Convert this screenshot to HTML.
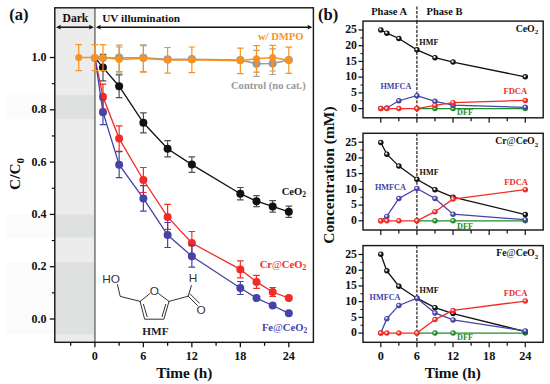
<!DOCTYPE html>
<html><head><meta charset="utf-8"><style>
html,body{margin:0;padding:0;background:#fff;width:550px;height:384px;overflow:hidden}
svg{display:block}

</style></head><body><svg width="550" height="384" viewBox="0 0 550 384"><defs><radialGradient id="g111111" cx="0.42" cy="0.42" r="0.6" fx="0.4" fy="0.38"><stop offset="0" stop-color="#f0f0f0"/><stop offset="0.15" stop-color="#f0f0f0"/><stop offset="0.5" stop-color="#111111"/><stop offset="1" stop-color="#111111"/></radialGradient><radialGradient id="gf32b26" cx="0.42" cy="0.42" r="0.6" fx="0.4" fy="0.38"><stop offset="0" stop-color="#ffe0dc"/><stop offset="0.15" stop-color="#ffe0dc"/><stop offset="0.5" stop-color="#f32b26"/><stop offset="1" stop-color="#f32b26"/></radialGradient><radialGradient id="g4543a5" cx="0.42" cy="0.42" r="0.6" fx="0.4" fy="0.38"><stop offset="0" stop-color="#e4e4ff"/><stop offset="0.15" stop-color="#e4e4ff"/><stop offset="0.5" stop-color="#4543a5"/><stop offset="1" stop-color="#4543a5"/></radialGradient><radialGradient id="g1f8c2a" cx="0.42" cy="0.42" r="0.6" fx="0.4" fy="0.38"><stop offset="0" stop-color="#d8f4d8"/><stop offset="0.15" stop-color="#d8f4d8"/><stop offset="0.5" stop-color="#1f8c2a"/><stop offset="1" stop-color="#1f8c2a"/></radialGradient></defs><rect width="550" height="384" fill="#fff"/><rect x="54.8" y="7.8" width="40.10000000000001" height="334.5" fill="#ececec"/><rect x="54.8" y="95.0" width="40.10000000000001" height="24.0" fill="#dfe1e1"/><rect x="54.8" y="214.5" width="40.10000000000001" height="23.0" fill="#dfe1e1"/><rect x="54.8" y="262.0" width="40.10000000000001" height="72.5" fill="#dfe1e1"/><rect x="6" y="95.0" width="47.8" height="24.0" fill="#fbfbfb"/><rect x="6" y="214.5" width="47.8" height="23.0" fill="#fbfbfb"/><rect x="6" y="262.0" width="47.8" height="72.5" fill="#fbfbfb"/><line x1="94.9" y1="7.8" x2="94.9" y2="342.3" stroke="#7a7a7a" stroke-width="1.6"/><rect x="54.8" y="7.8" width="258.59999999999997" height="334.5" fill="none" stroke="#1a1a1a" stroke-width="1.45"/><line x1="49.8" y1="319.00" x2="54.8" y2="319.00" stroke="#111" stroke-width="1.3"/><text x="46.4" y="322.5" font-size="12" fill="#111" text-anchor="end" font-family="Liberation Serif" font-weight="bold" >0.0</text><line x1="49.8" y1="266.70" x2="54.8" y2="266.70" stroke="#111" stroke-width="1.3"/><text x="46.4" y="270.2" font-size="12" fill="#111" text-anchor="end" font-family="Liberation Serif" font-weight="bold" >0.2</text><line x1="49.8" y1="214.40" x2="54.8" y2="214.40" stroke="#111" stroke-width="1.3"/><text x="46.4" y="217.89999999999998" font-size="12" fill="#111" text-anchor="end" font-family="Liberation Serif" font-weight="bold" >0.4</text><line x1="49.8" y1="162.10" x2="54.8" y2="162.10" stroke="#111" stroke-width="1.3"/><text x="46.4" y="165.59999999999997" font-size="12" fill="#111" text-anchor="end" font-family="Liberation Serif" font-weight="bold" >0.6</text><line x1="49.8" y1="109.80" x2="54.8" y2="109.80" stroke="#111" stroke-width="1.3"/><text x="46.4" y="113.29999999999998" font-size="12" fill="#111" text-anchor="end" font-family="Liberation Serif" font-weight="bold" >0.8</text><line x1="49.8" y1="57.50" x2="54.8" y2="57.50" stroke="#111" stroke-width="1.3"/><text x="46.4" y="61.0" font-size="12" fill="#111" text-anchor="end" font-family="Liberation Serif" font-weight="bold" >1.0</text><line x1="51.8" y1="292.85" x2="54.8" y2="292.85" stroke="#111" stroke-width="1.2"/><line x1="51.8" y1="240.55" x2="54.8" y2="240.55" stroke="#111" stroke-width="1.2"/><line x1="51.8" y1="188.25" x2="54.8" y2="188.25" stroke="#111" stroke-width="1.2"/><line x1="51.8" y1="135.95" x2="54.8" y2="135.95" stroke="#111" stroke-width="1.2"/><line x1="51.8" y1="83.65" x2="54.8" y2="83.65" stroke="#111" stroke-width="1.2"/><line x1="70.66" y1="342.3" x2="70.66" y2="345.8" stroke="#111" stroke-width="1.3"/><line x1="94.90" y1="342.3" x2="94.90" y2="347.3" stroke="#111" stroke-width="1.3"/><text x="94.9" y="360.2" font-size="12.2" fill="#111" text-anchor="middle" font-family="Liberation Serif" font-weight="bold" >0</text><line x1="119.14" y1="342.3" x2="119.14" y2="345.8" stroke="#111" stroke-width="1.3"/><line x1="143.38" y1="342.3" x2="143.38" y2="347.3" stroke="#111" stroke-width="1.3"/><text x="143.38" y="360.2" font-size="12.2" fill="#111" text-anchor="middle" font-family="Liberation Serif" font-weight="bold" >6</text><line x1="167.62" y1="342.3" x2="167.62" y2="345.8" stroke="#111" stroke-width="1.3"/><line x1="191.86" y1="342.3" x2="191.86" y2="347.3" stroke="#111" stroke-width="1.3"/><text x="191.86" y="360.2" font-size="12.2" fill="#111" text-anchor="middle" font-family="Liberation Serif" font-weight="bold" >12</text><line x1="216.10" y1="342.3" x2="216.10" y2="345.8" stroke="#111" stroke-width="1.3"/><line x1="240.34" y1="342.3" x2="240.34" y2="347.3" stroke="#111" stroke-width="1.3"/><text x="240.34" y="360.2" font-size="12.2" fill="#111" text-anchor="middle" font-family="Liberation Serif" font-weight="bold" >18</text><line x1="264.58" y1="342.3" x2="264.58" y2="345.8" stroke="#111" stroke-width="1.3"/><line x1="288.82" y1="342.3" x2="288.82" y2="347.3" stroke="#111" stroke-width="1.3"/><text x="288.82000000000005" y="360.2" font-size="12.2" fill="#111" text-anchor="middle" font-family="Liberation Serif" font-weight="bold" >24</text><text x="184.3" y="378.3" font-size="15.3" fill="#111" text-anchor="middle" font-family="Liberation Serif" font-weight="bold" >Time (h)</text><text transform="translate(19.6,174) rotate(-90)" font-size="15.3" fill="#111" text-anchor="middle" font-family="Liberation Serif" font-weight="bold">C/C<tspan font-size="11" dy="4">0</tspan></text><text x="9.2" y="19.8" font-size="16.6" fill="#111" text-anchor="start" font-family="Liberation Serif" font-weight="bold" >(a)</text><line x1="59.0" y1="27.2" x2="90.9" y2="27.2" stroke="#111" stroke-width="1.5"/><path d="M93.9,27.2 L88.9,24.8 L89.9,27.2 L88.9,29.599999999999998 Z" fill="#111"/><path d="M56.0,27.2 L61.0,24.8 L60.0,27.2 L61.0,29.599999999999998 Z" fill="#111"/><line x1="98.9" y1="27.2" x2="309.4" y2="27.2" stroke="#111" stroke-width="1.5"/><path d="M312.4,27.2 L307.4,24.8 L308.4,27.2 L307.4,29.599999999999998 Z" fill="#111"/><path d="M95.9,27.2 L100.9,24.8 L99.9,27.2 L100.9,29.599999999999998 Z" fill="#111"/><text x="75.4" y="22.3" font-size="11.6" fill="#111" text-anchor="middle" font-family="Liberation Serif" font-weight="bold" >Dark</text><text x="102.2" y="22.3" font-size="11.3" fill="#111" text-anchor="start" font-family="Liberation Serif" font-weight="bold" >UV illumination</text><path d="M94.90,58.00 L102.98,58.00 L119.14,57.70 L143.38,57.80 L167.62,59.40 L191.86,59.20 L240.34,60.00 L256.50,63.70 L272.66,63.50 L288.82,60.00" fill="none" stroke="#9b9b9b" stroke-width="1.6"/><path d="M119.14,45.20 V73.20 M115.84,45.20 H122.44 M115.84,73.20 H122.44" stroke="#a6a6a6" stroke-width="1.2" fill="none"/><path d="M143.38,44.80 V71.60 M140.08,44.80 H146.68 M140.08,71.60 H146.68" stroke="#a6a6a6" stroke-width="1.2" fill="none"/><path d="M256.50,50.40 V76.30 M253.20,50.40 H259.80 M253.20,76.30 H259.80" stroke="#a6a6a6" stroke-width="1.2" fill="none"/><path d="M272.66,48.90 V74.50 M269.36,48.90 H275.96 M269.36,74.50 H275.96" stroke="#a6a6a6" stroke-width="1.2" fill="none"/><circle cx="94.90" cy="58.00" r="4.1" fill="#9b9b9b"/><circle cx="102.98" cy="58.00" r="4.1" fill="#9b9b9b"/><circle cx="119.14" cy="57.70" r="4.1" fill="#9b9b9b"/><circle cx="143.38" cy="57.80" r="4.1" fill="#9b9b9b"/><circle cx="167.62" cy="59.40" r="4.1" fill="#9b9b9b"/><circle cx="191.86" cy="59.20" r="4.1" fill="#9b9b9b"/><circle cx="240.34" cy="60.00" r="4.1" fill="#9b9b9b"/><circle cx="256.50" cy="63.70" r="4.1" fill="#9b9b9b"/><circle cx="272.66" cy="63.50" r="4.1" fill="#9b9b9b"/><circle cx="288.82" cy="60.00" r="4.1" fill="#9b9b9b"/><path d="M94.90,57.50 L102.98,67.60 L119.14,86.20 L143.38,122.80 L167.62,148.70 L191.86,164.60 L240.34,193.70 L256.50,201.20 L272.66,206.40 L288.82,211.80" fill="none" stroke="#111111" stroke-width="1.3"/><path d="M102.98,54.30 V80.90 M99.68,54.30 H106.28 M99.68,80.90 H106.28" stroke="#505050" stroke-width="1.2" fill="none"/><path d="M119.14,74.80 V97.60 M115.84,74.80 H122.44 M115.84,97.60 H122.44" stroke="#505050" stroke-width="1.2" fill="none"/><path d="M143.38,112.80 V132.80 M140.08,112.80 H146.68 M140.08,132.80 H146.68" stroke="#505050" stroke-width="1.2" fill="none"/><path d="M167.62,140.60 V156.80 M164.32,140.60 H170.92 M164.32,156.80 H170.92" stroke="#505050" stroke-width="1.2" fill="none"/><path d="M191.86,156.90 V172.30 M188.56,156.90 H195.16 M188.56,172.30 H195.16" stroke="#505050" stroke-width="1.2" fill="none"/><path d="M240.34,187.50 V199.90 M237.04,187.50 H243.64 M237.04,199.90 H243.64" stroke="#505050" stroke-width="1.2" fill="none"/><path d="M256.50,195.70 V206.70 M253.20,195.70 H259.80 M253.20,206.70 H259.80" stroke="#505050" stroke-width="1.2" fill="none"/><path d="M272.66,200.60 V212.20 M269.36,200.60 H275.96 M269.36,212.20 H275.96" stroke="#505050" stroke-width="1.2" fill="none"/><path d="M288.82,206.20 V217.40 M285.52,206.20 H292.12 M285.52,217.40 H292.12" stroke="#505050" stroke-width="1.2" fill="none"/><circle cx="102.98" cy="67.60" r="4.0" fill="#111111"/><circle cx="119.14" cy="86.20" r="4.0" fill="#111111"/><circle cx="143.38" cy="122.80" r="4.0" fill="#111111"/><circle cx="167.62" cy="148.70" r="4.0" fill="#111111"/><circle cx="191.86" cy="164.60" r="4.0" fill="#111111"/><circle cx="240.34" cy="193.70" r="4.0" fill="#111111"/><circle cx="256.50" cy="201.20" r="4.0" fill="#111111"/><circle cx="272.66" cy="206.40" r="4.0" fill="#111111"/><circle cx="288.82" cy="211.80" r="4.0" fill="#111111"/><path d="M94.90,57.50 L102.98,96.70 L119.14,138.60 L143.38,180.00 L167.62,216.90 L191.86,243.00 L240.34,269.40 L256.50,281.90 L272.66,292.00 L288.82,298.10" fill="none" stroke="#f32b26" stroke-width="1.3"/><path d="M102.98,84.20 V109.20 M99.68,84.20 H106.28 M99.68,109.20 H106.28" stroke="#f32b26" stroke-width="1.2" fill="none"/><path d="M119.14,125.80 V151.40 M115.84,125.80 H122.44 M115.84,151.40 H122.44" stroke="#f32b26" stroke-width="1.2" fill="none"/><path d="M143.38,167.50 V192.50 M140.08,167.50 H146.68 M140.08,192.50 H146.68" stroke="#f32b26" stroke-width="1.2" fill="none"/><path d="M167.62,204.40 V229.40 M164.32,204.40 H170.92 M164.32,229.40 H170.92" stroke="#f32b26" stroke-width="1.2" fill="none"/><path d="M191.86,231.50 V254.50 M188.56,231.50 H195.16 M188.56,254.50 H195.16" stroke="#f32b26" stroke-width="1.2" fill="none"/><path d="M240.34,260.90 V277.90 M237.04,260.90 H243.64 M237.04,277.90 H243.64" stroke="#f32b26" stroke-width="1.2" fill="none"/><path d="M256.50,275.40 V288.40 M253.20,275.40 H259.80 M253.20,288.40 H259.80" stroke="#f32b26" stroke-width="1.2" fill="none"/><path d="M272.66,287.50 V296.50 M269.36,287.50 H275.96 M269.36,296.50 H275.96" stroke="#f32b26" stroke-width="1.2" fill="none"/><circle cx="102.98" cy="96.70" r="4.0" fill="#f32b26"/><circle cx="119.14" cy="138.60" r="4.0" fill="#f32b26"/><circle cx="143.38" cy="180.00" r="4.0" fill="#f32b26"/><circle cx="167.62" cy="216.90" r="4.0" fill="#f32b26"/><circle cx="191.86" cy="243.00" r="4.0" fill="#f32b26"/><circle cx="240.34" cy="269.40" r="4.0" fill="#f32b26"/><circle cx="256.50" cy="281.90" r="4.0" fill="#f32b26"/><circle cx="272.66" cy="292.00" r="4.0" fill="#f32b26"/><circle cx="288.82" cy="298.10" r="4.0" fill="#f32b26"/><path d="M94.90,57.50 L102.98,112.20 L119.14,164.70 L143.38,198.40 L167.62,235.00 L191.86,256.20 L240.34,288.00 L256.50,298.10 L272.66,305.50 L288.82,313.30" fill="none" stroke="#4543a5" stroke-width="1.3"/><path d="M102.98,99.70 V124.70 M99.68,99.70 H106.28 M99.68,124.70 H106.28" stroke="#4543a5" stroke-width="1.2" fill="none"/><path d="M119.14,151.70 V177.70 M115.84,151.70 H122.44 M115.84,177.70 H122.44" stroke="#4543a5" stroke-width="1.2" fill="none"/><path d="M143.38,185.70 V211.10 M140.08,185.70 H146.68 M140.08,211.10 H146.68" stroke="#4543a5" stroke-width="1.2" fill="none"/><path d="M167.62,222.50 V247.50 M164.32,222.50 H170.92 M164.32,247.50 H170.92" stroke="#4543a5" stroke-width="1.2" fill="none"/><path d="M191.86,245.20 V267.20 M188.56,245.20 H195.16 M188.56,267.20 H195.16" stroke="#4543a5" stroke-width="1.2" fill="none"/><path d="M240.34,281.50 V294.50 M237.04,281.50 H243.64 M237.04,294.50 H243.64" stroke="#4543a5" stroke-width="1.2" fill="none"/><circle cx="102.98" cy="112.20" r="4.0" fill="#4543a5"/><circle cx="119.14" cy="164.70" r="4.0" fill="#4543a5"/><circle cx="143.38" cy="198.40" r="4.0" fill="#4543a5"/><circle cx="167.62" cy="235.00" r="4.0" fill="#4543a5"/><circle cx="191.86" cy="256.20" r="4.0" fill="#4543a5"/><circle cx="240.34" cy="288.00" r="4.0" fill="#4543a5"/><circle cx="256.50" cy="298.10" r="4.0" fill="#4543a5"/><circle cx="272.66" cy="305.50" r="4.0" fill="#4543a5"/><circle cx="288.82" cy="313.30" r="4.0" fill="#4543a5"/><path d="M78.74,57.60 L94.90,57.60 L102.98,57.60 L119.14,59.40 L143.38,58.60 L167.62,60.10 L191.86,59.80 L240.34,60.80 L256.50,58.80 L272.66,57.60 L288.82,60.30" fill="none" stroke="#f7931e" stroke-width="1.5"/><path d="M78.74,44.60 V70.60 M75.44,44.60 H82.04 M75.44,70.60 H82.04" stroke="#f7931e" stroke-width="1.2" fill="none"/><path d="M94.90,44.60 V70.60 M91.60,44.60 H98.20 M91.60,70.60 H98.20" stroke="#f7931e" stroke-width="1.2" fill="none"/><path d="M102.98,44.60 V70.60 M99.68,44.60 H106.28 M99.68,70.60 H106.28" stroke="#f7931e" stroke-width="1.2" fill="none"/><path d="M119.14,47.00 V71.70 M115.84,47.00 H122.44 M115.84,71.70 H122.44" stroke="#f7931e" stroke-width="1.2" fill="none"/><path d="M143.38,45.60 V72.10 M140.08,45.60 H146.68 M140.08,72.10 H146.68" stroke="#f7931e" stroke-width="1.2" fill="none"/><path d="M167.62,47.50 V73.20 M164.32,47.50 H170.92 M164.32,73.20 H170.92" stroke="#f7931e" stroke-width="1.2" fill="none"/><path d="M191.86,47.00 V72.70 M188.56,47.00 H195.16 M188.56,72.70 H195.16" stroke="#f7931e" stroke-width="1.2" fill="none"/><path d="M240.34,48.20 V73.60 M237.04,48.20 H243.64 M237.04,73.60 H243.64" stroke="#f7931e" stroke-width="1.2" fill="none"/><path d="M256.50,45.70 V72.20 M253.20,45.70 H259.80 M253.20,72.20 H259.80" stroke="#f7931e" stroke-width="1.2" fill="none"/><path d="M272.66,45.30 V71.00 M269.36,45.30 H275.96 M269.36,71.00 H275.96" stroke="#f7931e" stroke-width="1.2" fill="none"/><path d="M288.82,47.20 V73.30 M285.52,47.20 H292.12 M285.52,73.30 H292.12" stroke="#f7931e" stroke-width="1.2" fill="none"/><circle cx="78.74" cy="57.60" r="3.5" fill="#f7931e"/><circle cx="94.90" cy="57.60" r="3.5" fill="#f7931e"/><circle cx="102.98" cy="57.60" r="3.5" fill="#f7931e"/><circle cx="119.14" cy="59.40" r="3.5" fill="#f7931e"/><circle cx="143.38" cy="58.60" r="3.5" fill="#f7931e"/><circle cx="167.62" cy="60.10" r="3.5" fill="#f7931e"/><circle cx="191.86" cy="59.80" r="3.5" fill="#f7931e"/><circle cx="240.34" cy="60.80" r="3.5" fill="#f7931e"/><circle cx="256.50" cy="58.80" r="3.5" fill="#f7931e"/><circle cx="272.66" cy="57.60" r="3.5" fill="#f7931e"/><circle cx="288.82" cy="60.30" r="3.5" fill="#f7931e"/><text x="303.5" y="39.6" font-size="10.6" fill="#f7931e" text-anchor="end" font-family="Liberation Serif" font-weight="bold" >w/ DMPO</text><text x="305.8" y="88.6" font-size="10.6" fill="#9a9a9a" text-anchor="end" font-family="Liberation Serif" font-weight="bold" >Control (no cat.)</text><text x="306" y="194.5" font-size="10.6" fill="#111" text-anchor="end" font-family="Liberation Serif" font-weight="bold">CeO<tspan font-size="7.5" dy="2.4">2</tspan></text><text x="306.2" y="267.6" font-size="10.6" fill="#f32b26" text-anchor="end" font-family="Liberation Serif" font-weight="bold">Cr<tspan font-weight="normal">@</tspan>CeO<tspan font-size="7.5" dy="2.4">2</tspan></text><text x="307.2" y="330.9" font-size="10.6" fill="#4543a5" text-anchor="end" font-family="Liberation Serif" font-weight="bold">Fe<tspan font-weight="normal">@</tspan>CeO<tspan font-size="7.5" dy="2.4">2</tspan></text><g stroke="#333" stroke-width="1.0" fill="none" stroke-linecap="round"><path d="M117.5,284.6 L120.2,296.4 L140.1,301.4"/><path d="M140.1,301.4 L149.8,293.6"/><path d="M158.6,293.6 L169.0,301.4"/><path d="M140.1,301.4 L144.6,319.2 L163.9,319.2 L169.0,301.4"/><path d="M143.5,304.4 L147.1,316.6"/><path d="M165.7,304.4 L162.1,316.6"/><path d="M169.0,301.4 L188.2,296.2 L191.4,285.6"/><path d="M188.2,296.2 L197.6,305.6 M190.2,294.0 L199.4,303.2"/></g><text x="111.2" y="282.5" font-size="11.8" fill="#333" text-anchor="middle" font-family="Liberation Sans" >HO</text><text x="154.3" y="294.6" font-size="11.8" fill="#333" text-anchor="middle" font-family="Liberation Sans" >O</text><text x="193.0" y="282.1" font-size="11.8" fill="#333" text-anchor="middle" font-family="Liberation Sans" >H</text><text x="201.2" y="314.2" font-size="11.8" fill="#333" text-anchor="middle" font-family="Liberation Sans" >O</text><text x="155.4" y="334.6" font-size="11.3" fill="#222" text-anchor="middle" font-family="Liberation Serif" font-weight="bold" >HMF</text><text x="318.0" y="19.8" font-size="16.6" fill="#111" text-anchor="start" font-family="Liberation Serif" font-weight="bold" >(b)</text><text x="389.1" y="15.3" font-size="10.5" fill="#111" text-anchor="middle" font-family="Liberation Serif" font-weight="bold" >Phase A</text><text x="444.5" y="15.3" font-size="10.5" fill="#111" text-anchor="middle" font-family="Liberation Serif" font-weight="bold" >Phase B</text><line x1="416.9" y1="6.5" x2="416.9" y2="21.1" stroke="#111" stroke-width="1.15" stroke-dasharray="3,1.4"/><text transform="translate(333.6,175) rotate(-90)" font-size="15.5" fill="#111" text-anchor="middle" font-family="Liberation Serif" font-weight="bold">Concentration (mM)</text><line x1="416.9" y1="21.1" x2="416.9" y2="117.80000000000001" stroke="#111" stroke-width="1.15" stroke-dasharray="3,1.4"/><rect x="363.0" y="21.1" width="180.20000000000005" height="96.7" fill="none" stroke="#1a1a1a" stroke-width="1.45"/><line x1="358.5" y1="108.60" x2="363.0" y2="108.60" stroke="#111" stroke-width="1.2"/><text x="357.0" y="111.89999999999999" font-size="11.8" fill="#111" text-anchor="end" font-family="Liberation Serif" font-weight="bold" >0</text><line x1="358.5" y1="92.88" x2="363.0" y2="92.88" stroke="#111" stroke-width="1.2"/><text x="357.0" y="96.17999999999999" font-size="11.8" fill="#111" text-anchor="end" font-family="Liberation Serif" font-weight="bold" >5</text><line x1="358.5" y1="77.16" x2="363.0" y2="77.16" stroke="#111" stroke-width="1.2"/><text x="357.0" y="80.46" font-size="11.8" fill="#111" text-anchor="end" font-family="Liberation Serif" font-weight="bold" >10</text><line x1="358.5" y1="61.44" x2="363.0" y2="61.44" stroke="#111" stroke-width="1.2"/><text x="357.0" y="64.74" font-size="11.8" fill="#111" text-anchor="end" font-family="Liberation Serif" font-weight="bold" >15</text><line x1="358.5" y1="45.72" x2="363.0" y2="45.72" stroke="#111" stroke-width="1.2"/><text x="357.0" y="49.01999999999999" font-size="11.8" fill="#111" text-anchor="end" font-family="Liberation Serif" font-weight="bold" >20</text><line x1="358.5" y1="30.00" x2="363.0" y2="30.00" stroke="#111" stroke-width="1.2"/><text x="357.0" y="33.29999999999998" font-size="11.8" fill="#111" text-anchor="end" font-family="Liberation Serif" font-weight="bold" >25</text><line x1="360.5" y1="100.74" x2="363.0" y2="100.74" stroke="#111" stroke-width="1.0"/><line x1="360.5" y1="85.02" x2="363.0" y2="85.02" stroke="#111" stroke-width="1.0"/><line x1="360.5" y1="69.30" x2="363.0" y2="69.30" stroke="#111" stroke-width="1.0"/><line x1="360.5" y1="53.58" x2="363.0" y2="53.58" stroke="#111" stroke-width="1.0"/><line x1="360.5" y1="37.86" x2="363.0" y2="37.86" stroke="#111" stroke-width="1.0"/><line x1="380.80" y1="117.80000000000001" x2="380.80" y2="122.80000000000001" stroke="#111" stroke-width="1.2"/><line x1="398.86" y1="117.80000000000001" x2="398.86" y2="121.30000000000001" stroke="#111" stroke-width="1.2"/><line x1="416.92" y1="117.80000000000001" x2="416.92" y2="122.80000000000001" stroke="#111" stroke-width="1.2"/><line x1="434.98" y1="117.80000000000001" x2="434.98" y2="121.30000000000001" stroke="#111" stroke-width="1.2"/><line x1="453.04" y1="117.80000000000001" x2="453.04" y2="122.80000000000001" stroke="#111" stroke-width="1.2"/><line x1="471.10" y1="117.80000000000001" x2="471.10" y2="121.30000000000001" stroke="#111" stroke-width="1.2"/><line x1="489.16" y1="117.80000000000001" x2="489.16" y2="122.80000000000001" stroke="#111" stroke-width="1.2"/><line x1="507.22" y1="117.80000000000001" x2="507.22" y2="121.30000000000001" stroke="#111" stroke-width="1.2"/><line x1="525.28" y1="117.80000000000001" x2="525.28" y2="122.80000000000001" stroke="#111" stroke-width="1.2"/><path d="M416.92,108.60 L434.98,108.60 L453.04,108.60 L525.28,108.60" fill="none" stroke="#1f8c2a" stroke-width="1.3"/><circle cx="416.92" cy="108.60" r="2.75" fill="url(#g1f8c2a)"/><circle cx="434.98" cy="108.60" r="2.75" fill="url(#g1f8c2a)"/><circle cx="453.04" cy="108.60" r="2.75" fill="url(#g1f8c2a)"/><circle cx="525.28" cy="108.60" r="2.75" fill="url(#g1f8c2a)"/><path d="M380.80,30.00 L386.82,33.14 L398.86,38.49 L416.92,49.81 L434.98,57.67 L453.04,62.07 L525.28,76.85" fill="none" stroke="#111111" stroke-width="1.3"/><circle cx="380.80" cy="30.00" r="2.75" fill="url(#g111111)"/><circle cx="386.82" cy="33.14" r="2.75" fill="url(#g111111)"/><circle cx="398.86" cy="38.49" r="2.75" fill="url(#g111111)"/><circle cx="416.92" cy="49.81" r="2.75" fill="url(#g111111)"/><circle cx="434.98" cy="57.67" r="2.75" fill="url(#g111111)"/><circle cx="453.04" cy="62.07" r="2.75" fill="url(#g111111)"/><circle cx="525.28" cy="76.85" r="2.75" fill="url(#g111111)"/><path d="M380.80,108.60 L386.82,107.97 L398.86,100.74 L416.92,95.71 L434.98,101.37 L453.04,105.14 L525.28,107.34" fill="none" stroke="#4543a5" stroke-width="1.3"/><circle cx="380.80" cy="108.60" r="2.75" fill="url(#g4543a5)"/><circle cx="386.82" cy="107.97" r="2.75" fill="url(#g4543a5)"/><circle cx="398.86" cy="100.74" r="2.75" fill="url(#g4543a5)"/><circle cx="416.92" cy="95.71" r="2.75" fill="url(#g4543a5)"/><circle cx="434.98" cy="101.37" r="2.75" fill="url(#g4543a5)"/><circle cx="453.04" cy="105.14" r="2.75" fill="url(#g4543a5)"/><circle cx="525.28" cy="107.34" r="2.75" fill="url(#g4543a5)"/><path d="M380.80,108.60 L386.82,108.60 L398.86,108.60 L416.92,108.60 L434.98,105.46 L453.04,102.63 L525.28,100.43" fill="none" stroke="#f32b26" stroke-width="1.3"/><circle cx="380.80" cy="108.60" r="2.75" fill="url(#gf32b26)"/><circle cx="386.82" cy="108.60" r="2.75" fill="url(#gf32b26)"/><circle cx="398.86" cy="108.60" r="2.75" fill="url(#gf32b26)"/><circle cx="416.92" cy="108.60" r="2.75" fill="url(#gf32b26)"/><circle cx="434.98" cy="105.46" r="2.75" fill="url(#gf32b26)"/><circle cx="453.04" cy="102.63" r="2.75" fill="url(#gf32b26)"/><circle cx="525.28" cy="100.43" r="2.75" fill="url(#gf32b26)"/><text x="419.3" y="44.5" font-size="8.2" fill="#111" text-anchor="start" font-family="Liberation Serif" font-weight="bold" >HMF</text><text x="380.5" y="89.4" font-size="8.2" fill="#4543a5" text-anchor="start" font-family="Liberation Serif" font-weight="bold" >HMFCA</text><text x="503.5" y="94.4" font-size="8.5" fill="#f32b26" text-anchor="start" font-family="Liberation Serif" font-weight="bold" >FDCA</text><text x="457" y="114.9" font-size="8.2" fill="#1f8c2a" text-anchor="start" font-family="Liberation Serif" font-weight="bold" >DFF</text><text x="538.2" y="32.0" font-size="9.8" fill="#111" text-anchor="end" font-family="Liberation Serif" font-weight="bold">CeO<tspan font-size="7" dy="2.3">2</tspan></text><line x1="416.9" y1="133.3" x2="416.9" y2="230.0" stroke="#111" stroke-width="1.15" stroke-dasharray="3,1.4"/><rect x="363.0" y="133.3" width="180.20000000000005" height="96.7" fill="none" stroke="#1a1a1a" stroke-width="1.45"/><line x1="358.5" y1="220.80" x2="363.0" y2="220.80" stroke="#111" stroke-width="1.2"/><text x="357.0" y="224.10000000000002" font-size="11.8" fill="#111" text-anchor="end" font-family="Liberation Serif" font-weight="bold" >0</text><line x1="358.5" y1="205.08" x2="363.0" y2="205.08" stroke="#111" stroke-width="1.2"/><text x="357.0" y="208.38000000000002" font-size="11.8" fill="#111" text-anchor="end" font-family="Liberation Serif" font-weight="bold" >5</text><line x1="358.5" y1="189.36" x2="363.0" y2="189.36" stroke="#111" stroke-width="1.2"/><text x="357.0" y="192.66000000000003" font-size="11.8" fill="#111" text-anchor="end" font-family="Liberation Serif" font-weight="bold" >10</text><line x1="358.5" y1="173.64" x2="363.0" y2="173.64" stroke="#111" stroke-width="1.2"/><text x="357.0" y="176.94000000000003" font-size="11.8" fill="#111" text-anchor="end" font-family="Liberation Serif" font-weight="bold" >15</text><line x1="358.5" y1="157.92" x2="363.0" y2="157.92" stroke="#111" stroke-width="1.2"/><text x="357.0" y="161.22000000000003" font-size="11.8" fill="#111" text-anchor="end" font-family="Liberation Serif" font-weight="bold" >20</text><line x1="358.5" y1="142.20" x2="363.0" y2="142.20" stroke="#111" stroke-width="1.2"/><text x="357.0" y="145.5" font-size="11.8" fill="#111" text-anchor="end" font-family="Liberation Serif" font-weight="bold" >25</text><line x1="360.5" y1="212.94" x2="363.0" y2="212.94" stroke="#111" stroke-width="1.0"/><line x1="360.5" y1="197.22" x2="363.0" y2="197.22" stroke="#111" stroke-width="1.0"/><line x1="360.5" y1="181.50" x2="363.0" y2="181.50" stroke="#111" stroke-width="1.0"/><line x1="360.5" y1="165.78" x2="363.0" y2="165.78" stroke="#111" stroke-width="1.0"/><line x1="360.5" y1="150.06" x2="363.0" y2="150.06" stroke="#111" stroke-width="1.0"/><line x1="380.80" y1="230.0" x2="380.80" y2="235.0" stroke="#111" stroke-width="1.2"/><line x1="398.86" y1="230.0" x2="398.86" y2="233.5" stroke="#111" stroke-width="1.2"/><line x1="416.92" y1="230.0" x2="416.92" y2="235.0" stroke="#111" stroke-width="1.2"/><line x1="434.98" y1="230.0" x2="434.98" y2="233.5" stroke="#111" stroke-width="1.2"/><line x1="453.04" y1="230.0" x2="453.04" y2="235.0" stroke="#111" stroke-width="1.2"/><line x1="471.10" y1="230.0" x2="471.10" y2="233.5" stroke="#111" stroke-width="1.2"/><line x1="489.16" y1="230.0" x2="489.16" y2="235.0" stroke="#111" stroke-width="1.2"/><line x1="507.22" y1="230.0" x2="507.22" y2="233.5" stroke="#111" stroke-width="1.2"/><line x1="525.28" y1="230.0" x2="525.28" y2="235.0" stroke="#111" stroke-width="1.2"/><path d="M416.92,220.80 L434.98,220.80 L453.04,220.80 L525.28,220.80" fill="none" stroke="#1f8c2a" stroke-width="1.3"/><circle cx="416.92" cy="220.80" r="2.75" fill="url(#g1f8c2a)"/><circle cx="434.98" cy="220.80" r="2.75" fill="url(#g1f8c2a)"/><circle cx="453.04" cy="220.80" r="2.75" fill="url(#g1f8c2a)"/><circle cx="525.28" cy="220.80" r="2.75" fill="url(#g1f8c2a)"/><path d="M380.80,142.51 L386.82,154.15 L398.86,166.09 L416.92,179.30 L434.98,189.67 L453.04,197.22 L525.28,214.51" fill="none" stroke="#111111" stroke-width="1.3"/><circle cx="380.80" cy="142.51" r="2.75" fill="url(#g111111)"/><circle cx="386.82" cy="154.15" r="2.75" fill="url(#g111111)"/><circle cx="398.86" cy="166.09" r="2.75" fill="url(#g111111)"/><circle cx="416.92" cy="179.30" r="2.75" fill="url(#g111111)"/><circle cx="434.98" cy="189.67" r="2.75" fill="url(#g111111)"/><circle cx="453.04" cy="197.22" r="2.75" fill="url(#g111111)"/><circle cx="525.28" cy="214.51" r="2.75" fill="url(#g111111)"/><path d="M380.80,220.80 L386.82,216.40 L398.86,198.48 L416.92,188.42 L434.98,198.48 L453.04,214.20 L525.28,219.70" fill="none" stroke="#4543a5" stroke-width="1.3"/><circle cx="380.80" cy="220.80" r="2.75" fill="url(#g4543a5)"/><circle cx="386.82" cy="216.40" r="2.75" fill="url(#g4543a5)"/><circle cx="398.86" cy="198.48" r="2.75" fill="url(#g4543a5)"/><circle cx="416.92" cy="188.42" r="2.75" fill="url(#g4543a5)"/><circle cx="434.98" cy="198.48" r="2.75" fill="url(#g4543a5)"/><circle cx="453.04" cy="214.20" r="2.75" fill="url(#g4543a5)"/><circle cx="525.28" cy="219.70" r="2.75" fill="url(#g4543a5)"/><path d="M380.80,220.80 L386.82,220.80 L398.86,220.80 L416.92,220.80 L434.98,211.68 L453.04,199.11 L525.28,189.67" fill="none" stroke="#f32b26" stroke-width="1.3"/><circle cx="380.80" cy="220.80" r="2.75" fill="url(#gf32b26)"/><circle cx="386.82" cy="220.80" r="2.75" fill="url(#gf32b26)"/><circle cx="398.86" cy="220.80" r="2.75" fill="url(#gf32b26)"/><circle cx="416.92" cy="220.80" r="2.75" fill="url(#gf32b26)"/><circle cx="434.98" cy="211.68" r="2.75" fill="url(#gf32b26)"/><circle cx="453.04" cy="199.11" r="2.75" fill="url(#gf32b26)"/><circle cx="525.28" cy="189.67" r="2.75" fill="url(#gf32b26)"/><text x="419.6" y="174.5" font-size="8.2" fill="#111" text-anchor="start" font-family="Liberation Serif" font-weight="bold" >HMF</text><text x="375.0" y="189.6" font-size="8.2" fill="#4543a5" text-anchor="start" font-family="Liberation Serif" font-weight="bold" >HMFCA</text><text x="504.3" y="184.7" font-size="8.5" fill="#f32b26" text-anchor="start" font-family="Liberation Serif" font-weight="bold" >FDCA</text><text x="457" y="228.5" font-size="8.2" fill="#1f8c2a" text-anchor="start" font-family="Liberation Serif" font-weight="bold" >DFF</text><text x="538.2" y="144.2" font-size="9.8" fill="#111" text-anchor="end" font-family="Liberation Serif" font-weight="bold">Cr<tspan font-weight="normal">@</tspan>CeO<tspan font-size="7" dy="2.3">2</tspan></text><line x1="416.9" y1="245.6" x2="416.9" y2="342.3" stroke="#111" stroke-width="1.15" stroke-dasharray="3,1.4"/><rect x="363.0" y="245.6" width="180.20000000000005" height="96.7" fill="none" stroke="#1a1a1a" stroke-width="1.45"/><line x1="358.5" y1="333.10" x2="363.0" y2="333.10" stroke="#111" stroke-width="1.2"/><text x="357.0" y="336.40000000000003" font-size="11.8" fill="#111" text-anchor="end" font-family="Liberation Serif" font-weight="bold" >0</text><line x1="358.5" y1="317.38" x2="363.0" y2="317.38" stroke="#111" stroke-width="1.2"/><text x="357.0" y="320.68" font-size="11.8" fill="#111" text-anchor="end" font-family="Liberation Serif" font-weight="bold" >5</text><line x1="358.5" y1="301.66" x2="363.0" y2="301.66" stroke="#111" stroke-width="1.2"/><text x="357.0" y="304.96000000000004" font-size="11.8" fill="#111" text-anchor="end" font-family="Liberation Serif" font-weight="bold" >10</text><line x1="358.5" y1="285.94" x2="363.0" y2="285.94" stroke="#111" stroke-width="1.2"/><text x="357.0" y="289.24" font-size="11.8" fill="#111" text-anchor="end" font-family="Liberation Serif" font-weight="bold" >15</text><line x1="358.5" y1="270.22" x2="363.0" y2="270.22" stroke="#111" stroke-width="1.2"/><text x="357.0" y="273.52000000000004" font-size="11.8" fill="#111" text-anchor="end" font-family="Liberation Serif" font-weight="bold" >20</text><line x1="358.5" y1="254.50" x2="363.0" y2="254.50" stroke="#111" stroke-width="1.2"/><text x="357.0" y="257.8" font-size="11.8" fill="#111" text-anchor="end" font-family="Liberation Serif" font-weight="bold" >25</text><line x1="360.5" y1="325.24" x2="363.0" y2="325.24" stroke="#111" stroke-width="1.0"/><line x1="360.5" y1="309.52" x2="363.0" y2="309.52" stroke="#111" stroke-width="1.0"/><line x1="360.5" y1="293.80" x2="363.0" y2="293.80" stroke="#111" stroke-width="1.0"/><line x1="360.5" y1="278.08" x2="363.0" y2="278.08" stroke="#111" stroke-width="1.0"/><line x1="360.5" y1="262.36" x2="363.0" y2="262.36" stroke="#111" stroke-width="1.0"/><line x1="380.80" y1="342.3" x2="380.80" y2="347.3" stroke="#111" stroke-width="1.2"/><line x1="398.86" y1="342.3" x2="398.86" y2="345.8" stroke="#111" stroke-width="1.2"/><line x1="416.92" y1="342.3" x2="416.92" y2="347.3" stroke="#111" stroke-width="1.2"/><line x1="434.98" y1="342.3" x2="434.98" y2="345.8" stroke="#111" stroke-width="1.2"/><line x1="453.04" y1="342.3" x2="453.04" y2="347.3" stroke="#111" stroke-width="1.2"/><line x1="471.10" y1="342.3" x2="471.10" y2="345.8" stroke="#111" stroke-width="1.2"/><line x1="489.16" y1="342.3" x2="489.16" y2="347.3" stroke="#111" stroke-width="1.2"/><line x1="507.22" y1="342.3" x2="507.22" y2="345.8" stroke="#111" stroke-width="1.2"/><line x1="525.28" y1="342.3" x2="525.28" y2="347.3" stroke="#111" stroke-width="1.2"/><path d="M416.92,333.10 L434.98,333.10 L453.04,333.10 L525.28,333.10" fill="none" stroke="#1f8c2a" stroke-width="1.3"/><circle cx="416.92" cy="333.10" r="2.75" fill="url(#g1f8c2a)"/><circle cx="434.98" cy="333.10" r="2.75" fill="url(#g1f8c2a)"/><circle cx="453.04" cy="333.10" r="2.75" fill="url(#g1f8c2a)"/><circle cx="525.28" cy="333.10" r="2.75" fill="url(#g1f8c2a)"/><path d="M380.80,254.19 L386.82,270.85 L398.86,286.25 L416.92,298.20 L434.98,307.63 L453.04,313.61 L525.28,331.53" fill="none" stroke="#111111" stroke-width="1.3"/><circle cx="380.80" cy="254.19" r="2.75" fill="url(#g111111)"/><circle cx="386.82" cy="270.85" r="2.75" fill="url(#g111111)"/><circle cx="398.86" cy="286.25" r="2.75" fill="url(#g111111)"/><circle cx="416.92" cy="298.20" r="2.75" fill="url(#g111111)"/><circle cx="434.98" cy="307.63" r="2.75" fill="url(#g111111)"/><circle cx="453.04" cy="313.61" r="2.75" fill="url(#g111111)"/><circle cx="525.28" cy="331.53" r="2.75" fill="url(#g111111)"/><path d="M380.80,333.10 L386.82,318.64 L398.86,305.43 L416.92,298.20 L434.98,312.98 L453.04,319.90 L525.28,330.90" fill="none" stroke="#4543a5" stroke-width="1.3"/><circle cx="380.80" cy="333.10" r="2.75" fill="url(#g4543a5)"/><circle cx="386.82" cy="318.64" r="2.75" fill="url(#g4543a5)"/><circle cx="398.86" cy="305.43" r="2.75" fill="url(#g4543a5)"/><circle cx="416.92" cy="298.20" r="2.75" fill="url(#g4543a5)"/><circle cx="434.98" cy="312.98" r="2.75" fill="url(#g4543a5)"/><circle cx="453.04" cy="319.90" r="2.75" fill="url(#g4543a5)"/><circle cx="525.28" cy="330.90" r="2.75" fill="url(#g4543a5)"/><path d="M380.80,333.10 L386.82,333.10 L398.86,333.10 L416.92,333.10 L434.98,319.58 L453.04,310.46 L525.28,301.03" fill="none" stroke="#f32b26" stroke-width="1.3"/><circle cx="380.80" cy="333.10" r="2.75" fill="url(#gf32b26)"/><circle cx="386.82" cy="333.10" r="2.75" fill="url(#gf32b26)"/><circle cx="398.86" cy="333.10" r="2.75" fill="url(#gf32b26)"/><circle cx="416.92" cy="333.10" r="2.75" fill="url(#gf32b26)"/><circle cx="434.98" cy="319.58" r="2.75" fill="url(#gf32b26)"/><circle cx="453.04" cy="310.46" r="2.75" fill="url(#gf32b26)"/><circle cx="525.28" cy="301.03" r="2.75" fill="url(#gf32b26)"/><text x="419.6" y="292.5" font-size="8.2" fill="#111" text-anchor="start" font-family="Liberation Serif" font-weight="bold" >HMF</text><text x="369.6" y="299.6" font-size="8.2" fill="#4543a5" text-anchor="start" font-family="Liberation Serif" font-weight="bold" >HMFCA</text><text x="503.7" y="295.5" font-size="8.5" fill="#f32b26" text-anchor="start" font-family="Liberation Serif" font-weight="bold" >FDCA</text><text x="457" y="340.4" font-size="8.2" fill="#1f8c2a" text-anchor="start" font-family="Liberation Serif" font-weight="bold" >DFF</text><text x="538.2" y="256.4" font-size="9.8" fill="#111" text-anchor="end" font-family="Liberation Serif" font-weight="bold">Fe<tspan font-weight="normal">@</tspan>CeO<tspan font-size="7" dy="2.3">2</tspan></text><text x="380.8" y="359.9" font-size="12.3" fill="#111" text-anchor="middle" font-family="Liberation Serif" font-weight="bold" >0</text><text x="416.92" y="359.9" font-size="12.3" fill="#111" text-anchor="middle" font-family="Liberation Serif" font-weight="bold" >6</text><text x="453.04" y="359.9" font-size="12.3" fill="#111" text-anchor="middle" font-family="Liberation Serif" font-weight="bold" >12</text><text x="489.15999999999997" y="359.9" font-size="12.3" fill="#111" text-anchor="middle" font-family="Liberation Serif" font-weight="bold" >18</text><text x="525.28" y="359.9" font-size="12.3" fill="#111" text-anchor="middle" font-family="Liberation Serif" font-weight="bold" >24</text><text x="452.8" y="378.0" font-size="15.3" fill="#111" text-anchor="middle" font-family="Liberation Serif" font-weight="bold" >Time (h)</text></svg></body></html>
